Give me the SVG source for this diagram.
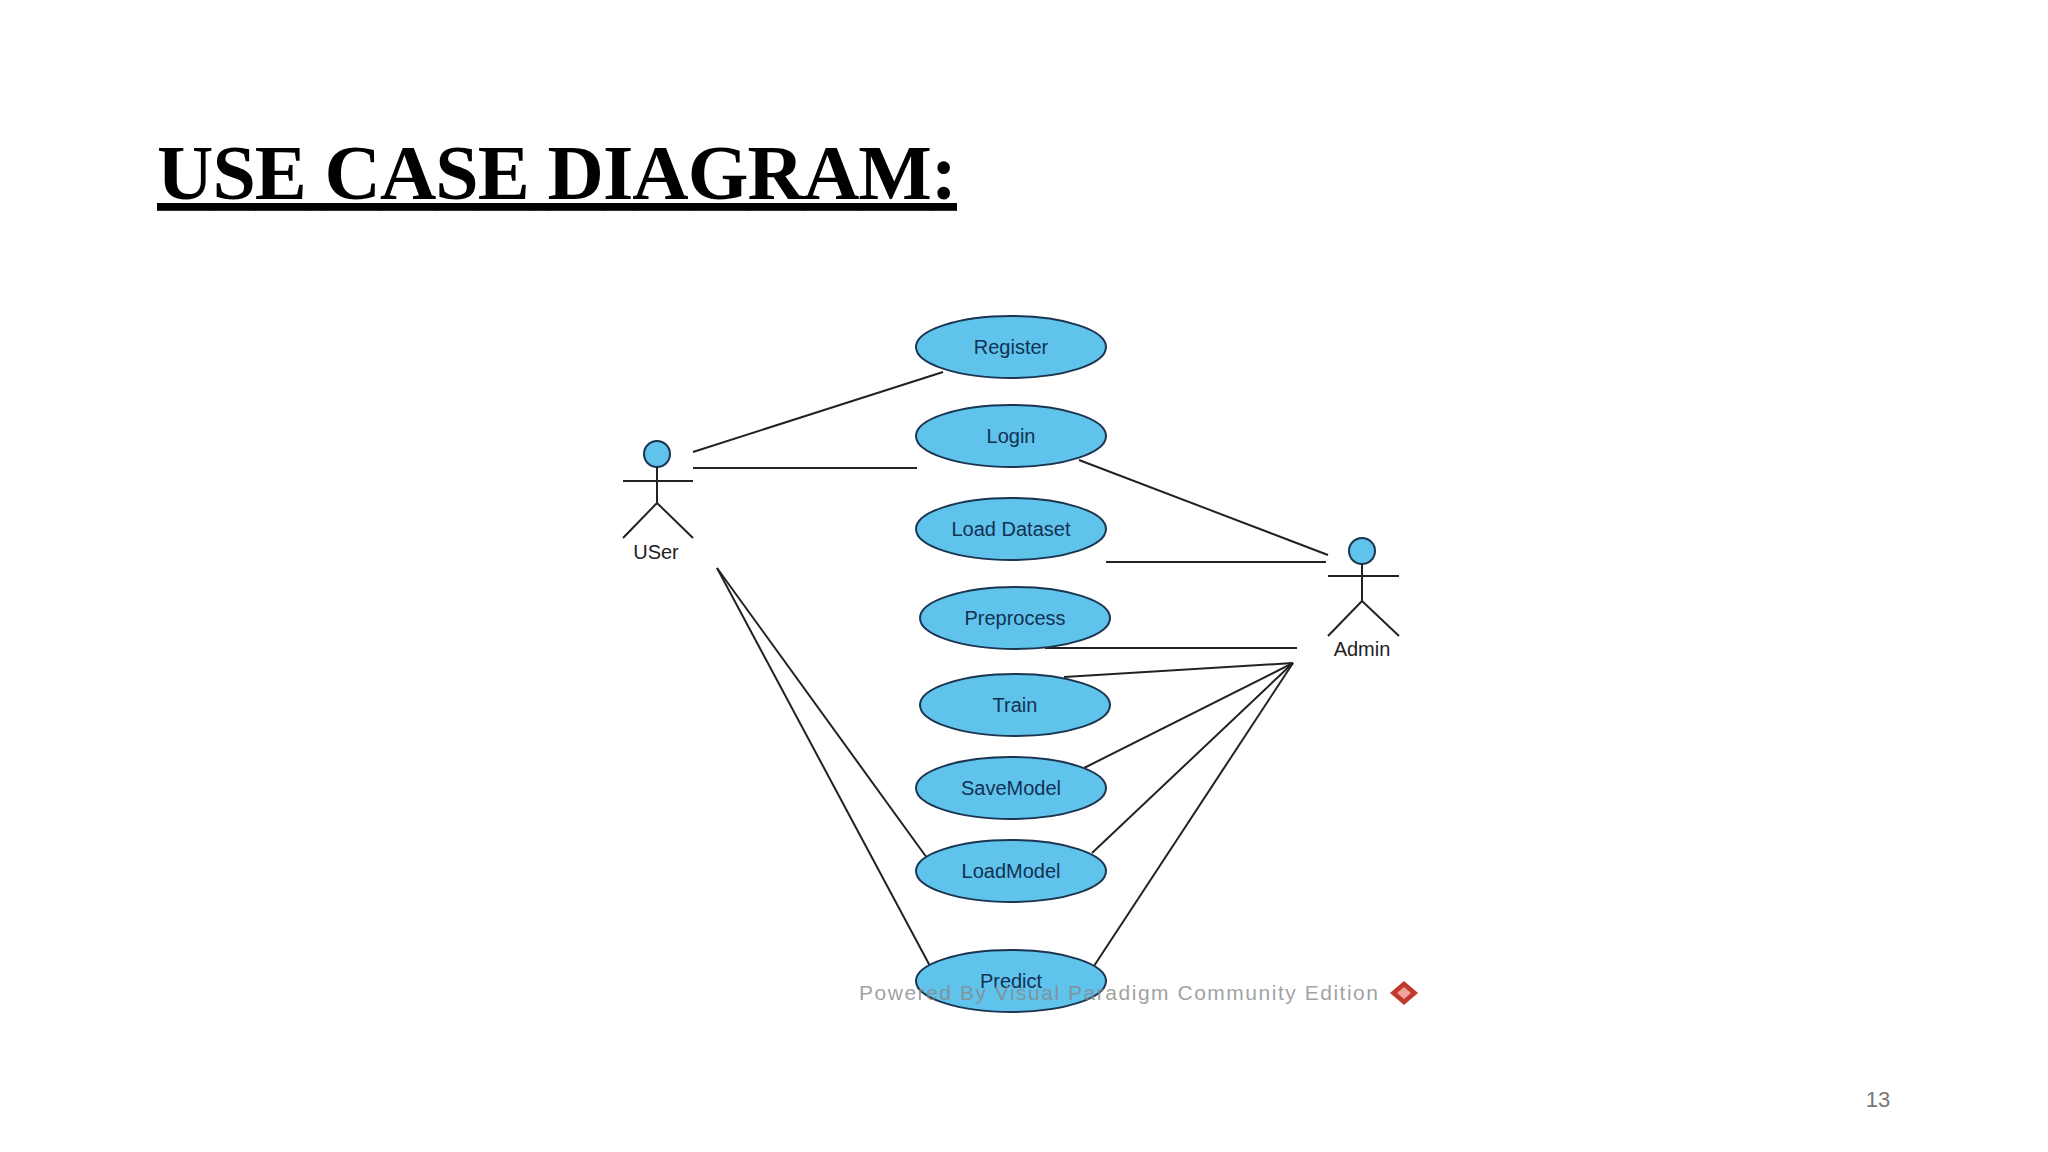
<svg xmlns="http://www.w3.org/2000/svg" width="2048" height="1152" viewBox="0 0 2048 1152">
<style>
.uc ellipse{fill:#5fc3ec;stroke:#1b3550;stroke-width:2}
.uc text{font-family:"Liberation Sans",Arial,sans-serif;font-size:20px;fill:#123152;text-anchor:middle}
.actor circle{fill:#5fc3ec;stroke:#1b3550;stroke-width:2}
.actor line{stroke:#222;stroke-width:2}
.actor text{font-family:"Liberation Sans",Arial,sans-serif;font-size:20px;fill:#222;text-anchor:middle}
#connectors line{stroke:#222;stroke-width:2}
</style>
<rect width="2048" height="1152" fill="#fff"/>
<text x="157" y="199" font-family="Liberation Serif,serif" font-weight="bold" font-size="78" textLength="800" text-decoration="underline" fill="#000">USE CASE DIAGRAM:</text>
<text x="1878" y="1107" font-family="Liberation Sans,sans-serif" font-size="22" fill="#777" text-anchor="middle">13</text>
<g id="connectors">
<line x1="693" y1="452" x2="943" y2="372"/>
<line x1="693" y1="468" x2="917" y2="468"/>
<line x1="1079" y1="460" x2="1328" y2="555"/>
<line x1="1106" y1="562" x2="1326" y2="562"/>
<line x1="1045" y1="648" x2="1297" y2="648"/>
<line x1="1293" y1="663" x2="1064" y2="677"/>
<line x1="1293" y1="663" x2="1084" y2="768"/>
<line x1="1293" y1="663" x2="1092" y2="853"/>
<line x1="1293" y1="663" x2="1094" y2="966"/>
<line x1="717" y1="568" x2="927" y2="858"/>
<line x1="717" y1="568" x2="930" y2="966"/>
</g>
<g id="user" class="actor">
<circle cx="657" cy="454" r="13"/>
<line x1="657" y1="467" x2="657" y2="503"/>
<line x1="623" y1="481" x2="693" y2="481"/>
<line x1="657" y1="503" x2="623" y2="538"/>
<line x1="657" y1="503" x2="693" y2="538"/>
<text x="656" y="559">USer</text>
</g>
<g id="admin" class="actor">
<circle cx="1362" cy="551" r="13"/>
<line x1="1362" y1="564" x2="1362" y2="601"/>
<line x1="1328" y1="576" x2="1399" y2="576"/>
<line x1="1362" y1="601" x2="1328" y2="636"/>
<line x1="1362" y1="601" x2="1399" y2="636"/>
<text x="1362" y="656">Admin</text>
</g>
<g id="register" class="uc"><ellipse cx="1011" cy="347" rx="95" ry="31"/><text x="1011" y="354">Register</text></g>
<g id="login" class="uc"><ellipse cx="1011" cy="436" rx="95" ry="31"/><text x="1011" y="443">Login</text></g>
<g id="loaddataset" class="uc"><ellipse cx="1011" cy="529" rx="95" ry="31"/><text x="1011" y="536">Load Dataset</text></g>
<g id="preprocess" class="uc"><ellipse cx="1015" cy="618" rx="95" ry="31"/><text x="1015" y="625">Preprocess</text></g>
<g id="train" class="uc"><ellipse cx="1015" cy="705" rx="95" ry="31"/><text x="1015" y="712">Train</text></g>
<g id="savemodel" class="uc"><ellipse cx="1011" cy="788" rx="95" ry="31"/><text x="1011" y="795">SaveModel</text></g>
<g id="loadmodel" class="uc"><ellipse cx="1011" cy="871" rx="95" ry="31"/><text x="1011" y="878">LoadModel</text></g>
<g id="predict" class="uc"><ellipse cx="1011" cy="981" rx="95" ry="31"/><text x="1011" y="988">Predict</text></g>
<text x="859" y="1000" font-family="Liberation Sans,sans-serif" font-size="21" fill="#888" fill-opacity="0.8" textLength="519">Powered By  Visual Paradigm Community Edition</text>
<g id="logo"><polygon points="1404,981 1418,993 1404,1005 1390,993" fill="#c0392b"/><polygon points="1404,987 1411,993 1404,999 1397,993" fill="#f1a29a"/></g>
</svg>
